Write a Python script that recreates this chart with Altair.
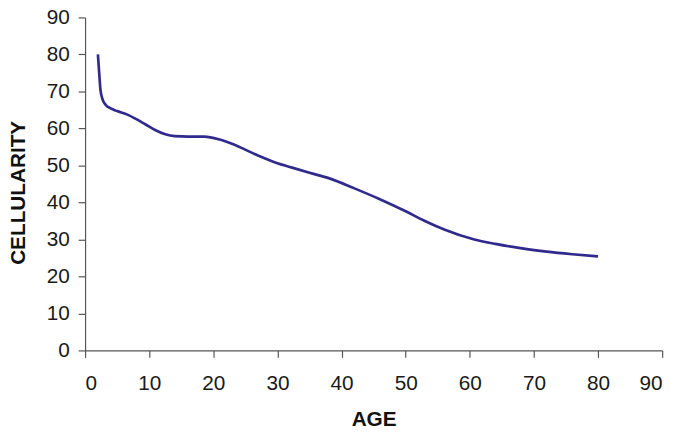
import altair as alt
import pandas as pd

age = [2, 2.2, 2.4, 2.7, 3.2, 4, 5, 6.5, 8, 9.5, 11, 12.5, 14, 16, 18.6, 21, 23, 26.8, 30, 31.9, 35, 38.1, 42, 45.8, 50, 53, 56, 60.7, 64, 68.4, 72, 76, 80]
cell = [80, 75, 70.4, 68, 66.4, 65.4, 64.7, 63.8, 62.5, 61.0, 59.5, 58.4, 57.9, 57.8, 57.8, 57.0, 55.8, 52.8, 50.6, 49.6, 48.0, 46.5, 43.8, 41.0, 37.6, 35.0, 32.7, 30.0, 28.8, 27.5, 26.7, 26.0, 25.4]

df = pd.DataFrame({"AGE": age, "CELLULARITY": cell})

chart = alt.Chart(df).mark_line(
    color="#2f2a8c", strokeWidth=2.7, interpolate="monotone"
).encode(
    x=alt.X("AGE:Q", scale=alt.Scale(domain=[0, 90], nice=False),
            axis=alt.Axis(values=list(range(0, 91, 10)), title="AGE",
                          tickSize=7, labelPadding=16, titleY=76,
                          titleBaseline="alphabetic")),
    y=alt.Y("CELLULARITY:Q", scale=alt.Scale(domain=[0, 90], nice=False),
            axis=alt.Axis(values=list(range(0, 91, 10)), title="CELLULARITY",
                          tickSize=7, labelPadding=9, titleX=-61, titleY=177,
                          titleBaseline="alphabetic")),
).properties(
    width=584, height=337,
    autosize=alt.AutoSizeParams(type="none"),
    padding={"left": 78, "top": 7, "right": 15, "bottom": 80},
).configure_view(stroke=None).configure_axis(
    grid=False, domainColor="#555", tickColor="#555", domainWidth=1.2, tickWidth=1.2,
    labelFont="Liberation Sans", labelFontSize=21, labelColor="#1a1a1a",
    titleFont="Liberation Sans", titleFontSize=21, titleFontWeight="bold",
    titleColor="#111",
)

chart.save("out.html", embed_options={"renderer": "svg", "actions": False})
